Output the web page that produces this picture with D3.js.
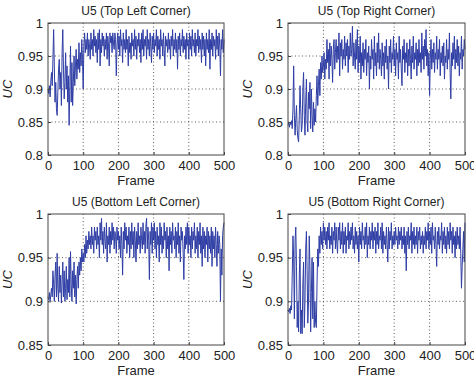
<!DOCTYPE html>
<html>
<head>
<meta charset="utf-8">
<script src="https://cdn.jsdelivr.net/npm/d3@7"></script>
<style>
  body { margin: 0; background: white; }
  text { font-family: "Liberation Sans", Arial, sans-serif; fill: #222; }
</style>
</head>
<body>
<div id="container"></div>
<script>
/* CONSTANTS AND GLOBALS */
const width = 474,
  height = 377;

// frame index of each sample (one reading every 2 frames)
const frames = d3.range(0, 501, 2);
const xTicks = [0, 100, 200, 300, 400, 500];

const titles = [
  "U5 (Top Left Corner)",
  "U5 (Top Right Corner)",
  "U5 (Bottom Left Corner)",
  "U5 (Bottom Right Corner)"
];

const yTicksTop = [0.8, 0.85, 0.9, 0.95, 1];
const yTicksBottom = [0.85, 0.9, 0.95, 1];

// UC values (each row = 20 frames)
const topLeft = [
  0.900, 0.893, 0.905, 0.888, 0.912, 0.925, 0.905, 0.945, 0.990, 0.935,
  0.880, 0.910, 0.870, 0.860, 0.895, 0.930, 0.945, 0.900, 0.925, 0.875,
  0.955, 0.990, 0.930, 0.885, 0.910, 0.955, 0.900, 0.935, 0.880, 0.920,
  0.845, 0.905, 0.965, 0.880, 0.940, 0.875, 0.910, 0.950, 0.905, 0.935,
  0.960, 0.915, 0.945, 0.930, 0.970, 0.925, 0.955, 0.935, 0.975, 0.945,
  0.900, 0.965, 0.985, 0.955, 0.975, 0.960, 0.985, 0.950, 0.975, 0.965,
  0.945, 0.985, 0.960, 0.975, 0.950, 0.990, 0.965, 0.980, 0.955, 0.975,
  0.940, 0.985, 0.960, 0.990, 0.935, 0.975, 0.955, 0.985, 0.965, 0.980,
  0.950, 0.975, 0.960, 0.985, 0.945, 0.980, 0.965, 0.935, 0.985, 0.970,
  0.980, 0.955, 0.985, 0.970, 0.960, 0.985, 0.975, 0.920, 0.965, 0.985,
  0.960, 0.980, 0.950, 0.990, 0.965, 0.975, 0.940, 0.985, 0.960, 0.975,
  0.955, 0.990, 0.960, 0.975, 0.935, 0.980, 0.955, 0.970, 0.945, 0.985,
  0.965, 0.975, 0.950, 0.990, 0.960, 0.980, 0.945, 0.975, 0.965, 0.985,
  0.955, 0.975, 0.940, 0.985, 0.960, 0.990, 0.950, 0.975, 0.965, 0.980,
  0.945, 0.990, 0.960, 0.975, 0.950, 0.985, 0.965, 0.940, 0.980, 0.960,
  0.985, 0.955, 0.975, 0.965, 0.990, 0.950, 0.980, 0.960, 0.975, 0.945,
  0.990, 0.965, 0.975, 0.950, 0.985, 0.960, 0.935, 0.980, 0.965, 0.975,
  0.955, 0.985, 0.960, 0.975, 0.945, 0.980, 0.965, 0.990, 0.950, 0.975,
  0.960, 0.985, 0.955, 0.975, 0.930, 0.980, 0.960, 0.985, 0.950, 0.975,
  0.965, 0.990, 0.955, 0.980, 0.960, 0.975, 0.945, 0.985, 0.965, 0.975,
  0.945, 0.985, 0.960, 0.980, 0.950, 0.990, 0.965, 0.975, 0.955, 0.985,
  0.950, 0.975, 0.965, 0.990, 0.955, 0.980, 0.960, 0.975, 0.940, 0.985,
  0.960, 0.980, 0.950, 0.975, 0.935, 0.985, 0.960, 0.975, 0.955, 0.990,
  0.930, 0.975, 0.960, 0.985, 0.950, 0.980, 0.965, 0.975, 0.945, 0.990,
  0.960, 0.980, 0.950, 0.985, 0.965, 0.920, 0.975, 0.960, 0.990, 0.955,
  0.975
];

const topRight = [
  0.845, 0.848, 0.842, 0.850, 0.846, 0.852, 0.840, 0.870, 0.935, 0.860,
  0.830, 0.855, 0.875, 0.838, 0.825, 0.820, 0.860, 0.905, 0.870, 0.835,
  0.845, 0.900, 0.925, 0.860, 0.830, 0.880, 0.915, 0.850, 0.835, 0.895,
  0.870, 0.910, 0.840, 0.900, 0.860, 0.835, 0.880, 0.845, 0.870, 0.850,
  0.890, 0.920, 0.875, 0.905, 0.930, 0.890, 0.940, 0.915, 0.950, 0.925,
  0.935, 0.955, 0.915, 0.945, 0.930, 0.975, 0.940, 0.960, 0.915, 0.970,
  0.935, 0.965, 0.945, 0.910, 0.960, 0.975, 0.930, 0.955, 0.975, 0.940,
  0.965, 0.945, 0.985, 0.920, 0.970, 0.950, 0.975, 0.930, 0.960, 0.945,
  0.980, 0.935, 0.970, 0.950, 0.975, 0.925, 0.965, 0.945, 0.985, 0.950,
  0.960, 0.995, 0.935, 0.970, 0.950, 0.930, 0.975, 0.945, 0.990, 0.925,
  0.965, 0.940, 0.980, 0.915, 0.955, 0.935, 0.970, 0.925, 0.960, 0.945,
  0.975, 0.920, 0.955, 0.940, 0.965, 0.900, 0.950, 0.930, 0.975, 0.945,
  0.960, 0.915, 0.980, 0.935, 0.955, 0.920, 0.970, 0.940, 0.985, 0.930,
  0.960, 0.945, 0.920, 0.970, 0.935, 0.955, 0.915, 0.965, 0.940, 0.975,
  0.930, 0.950, 0.900, 0.965, 0.940, 0.975, 0.925, 0.955, 0.945, 0.980,
  0.935, 0.960, 0.920, 0.970, 0.945, 0.955, 0.915, 0.980, 0.940, 0.960,
  0.930, 0.905, 0.965, 0.945, 0.975, 0.925, 0.955, 0.940, 0.970, 0.920,
  0.960, 0.935, 0.975, 0.945, 0.915, 0.965, 0.940, 0.980, 0.930, 0.955,
  0.945, 0.970, 0.920, 0.960, 0.935, 0.975, 0.940, 0.955, 0.925, 0.985,
  0.945, 0.965, 0.930, 0.975, 0.950, 0.990, 0.935, 0.960, 0.920, 0.955,
  0.890, 0.945, 0.975, 0.930, 0.960, 0.940, 0.970, 0.925, 0.955, 0.945,
  0.980, 0.930, 0.960, 0.945, 0.975, 0.920, 0.955, 0.940, 0.965, 0.935,
  0.970, 0.915, 0.950, 0.940, 0.975, 0.930, 0.960, 0.945, 0.985, 0.925,
  0.885, 0.955, 0.935, 0.970, 0.945, 0.980, 0.930, 0.960, 0.940, 0.975,
  0.935, 0.965, 0.920, 0.955, 0.945, 0.980, 0.930, 0.960, 0.950, 0.975,
  0.960
];

const bottomLeft = [
  0.905, 0.902, 0.910, 0.900, 0.908, 0.915, 0.905, 0.935, 0.920, 0.900,
  0.930, 0.945, 0.905, 0.955, 0.915, 0.900, 0.940, 0.910, 0.930, 0.898,
  0.920, 0.945, 0.905, 0.935, 0.900, 0.915, 0.940, 0.902, 0.925, 0.910,
  0.950, 0.905, 0.957, 0.920, 0.900, 0.935, 0.915, 0.945, 0.905, 0.930,
  0.897, 0.925, 0.940, 0.915, 0.945, 0.930, 0.950, 0.935, 0.960, 0.945,
  0.955, 0.945, 0.965, 0.950, 0.975, 0.955, 0.970, 0.960, 0.980, 0.965,
  0.975, 0.960, 0.985, 0.965, 0.975, 0.955, 0.985, 0.970, 0.980, 0.960,
  0.985, 0.965, 0.975, 0.950, 0.990, 0.970, 0.995, 0.965, 0.980, 0.955,
  0.985, 0.970, 0.960, 0.990, 0.945, 0.975, 0.965, 0.985, 0.955, 0.980,
  0.965, 0.990, 0.970, 0.985, 0.960, 0.980, 0.975, 0.955, 0.985, 0.970,
  0.980, 0.960, 0.975, 0.950, 0.985, 0.965, 0.930, 0.980, 0.960, 0.990,
  0.970, 0.985, 0.955, 0.975, 0.965, 0.985, 0.950, 0.980, 0.960, 0.990,
  0.965, 0.980, 0.950, 0.985, 0.970, 0.945, 0.980, 0.960, 0.990, 0.965,
  0.975, 0.955, 0.985, 0.970, 0.960, 0.990, 0.965, 0.980, 0.955, 0.985,
  0.995, 0.960, 0.985, 0.970, 0.925, 0.980, 0.965, 0.990, 0.955, 0.985,
  0.970, 0.990, 0.960, 0.980, 0.950, 0.985, 0.965, 0.975, 0.945, 0.990,
  0.965, 0.985, 0.955, 0.975, 0.960, 0.990, 0.970, 0.980, 0.950, 0.985,
  0.960, 0.975, 0.935, 0.985, 0.965, 0.980, 0.955, 0.990, 0.970, 0.975,
  0.960, 0.985, 0.950, 0.980, 0.965, 0.990, 0.955, 0.975, 0.945, 0.985,
  0.970, 0.980, 0.955, 0.925, 0.975, 0.960, 0.985, 0.965, 0.990, 0.955,
  0.985, 0.965, 0.975, 0.950, 0.985, 0.960, 0.980, 0.970, 0.990, 0.955,
  0.975, 0.960, 0.985, 0.950, 0.980, 0.965, 0.990, 0.955, 0.975, 0.940,
  0.985, 0.960, 0.980, 0.950, 0.975, 0.965, 0.985, 0.945, 0.980, 0.960,
  0.975, 0.955, 0.985, 0.940, 0.980, 0.960, 0.975, 0.950, 0.985, 0.965,
  0.940, 0.980, 0.955, 0.975, 0.965, 0.900, 0.960, 0.930, 0.975, 0.985,
  0.990
];

const bottomRight = [
  0.890, 0.888, 0.892, 0.886, 0.895, 0.890, 0.930, 0.975, 0.950, 0.880,
  0.970, 0.985, 0.940, 0.870, 0.900, 0.865, 0.930, 0.960, 0.863, 0.890,
  0.863, 0.920, 0.945, 0.870, 0.900, 0.960, 0.980, 0.935, 0.875, 0.900,
  0.975, 0.940, 0.865, 0.910, 0.950, 0.880, 0.945, 0.870, 0.900, 0.875,
  0.870, 0.920, 0.960, 0.940, 0.975, 0.955, 0.985, 0.965, 0.980, 0.960,
  0.990, 0.970, 0.985, 0.965, 0.980, 0.960, 0.985, 0.970, 0.990, 0.960,
  0.975, 0.965, 0.985, 0.955, 0.980, 0.970, 0.990, 0.960, 0.985, 0.965,
  0.955, 0.985, 0.970, 0.990, 0.960, 0.980, 0.965, 0.990, 0.955, 0.980,
  0.965, 0.985, 0.955, 0.975, 0.970, 0.990, 0.960, 0.980, 0.965, 0.985,
  0.970, 0.990, 0.960, 0.975, 0.955, 0.985, 0.965, 0.980, 0.960, 0.975,
  0.945, 0.985, 0.965, 0.980, 0.960, 0.990, 0.970, 0.975, 0.960, 0.985,
  0.965, 0.990, 0.950, 0.975, 0.965, 0.985, 0.960, 0.980, 0.970, 0.990,
  0.960, 0.980, 0.970, 0.985, 0.955, 0.980, 0.965, 0.990, 0.960, 0.975,
  0.970, 0.985, 0.960, 0.990, 0.955, 0.980, 0.965, 0.975, 0.960, 0.985,
  0.965, 0.945, 0.985, 0.960, 0.980, 0.970, 0.990, 0.960, 0.975, 0.965,
  0.980, 0.965, 0.985, 0.970, 0.975, 0.960, 0.985, 0.965, 0.980, 0.970,
  0.985, 0.960, 0.975, 0.965, 0.985, 0.955, 0.975, 0.935, 0.980, 0.965,
  0.985, 0.960, 0.975, 0.970, 0.990, 0.955, 0.980, 0.965, 0.985, 0.960,
  0.975, 0.965, 0.985, 0.955, 0.980, 0.970, 0.985, 0.960, 0.975, 0.965,
  0.980, 0.955, 0.975, 0.965, 0.985, 0.960, 0.980, 0.970, 0.990, 0.960,
  0.980, 0.965, 0.985, 0.955, 0.990, 0.970, 0.975, 0.960, 0.985, 0.965,
  0.940, 0.980, 0.965, 0.985, 0.960, 0.975, 0.970, 0.990, 0.955, 0.980,
  0.965, 0.985, 0.960, 0.975, 0.955, 0.985, 0.965, 0.980, 0.960, 0.990,
  0.970, 0.980, 0.955, 0.985, 0.965, 0.975, 0.950, 0.980, 0.960, 0.985,
  0.965, 0.975, 0.960, 0.985, 0.955, 0.915, 0.940, 0.960, 0.980, 0.945,
  0.990
];

// panel layout (pixel boxes)
const panels = [
  { title: titles[0], values: topLeft, yTicks: yTicksTop, x0: 48, x1: 224, y0: 23, y1: 155 },
  { title: titles[1], values: topRight, yTicks: yTicksTop, x0: 288, x1: 465, y0: 23, y1: 155 },
  { title: titles[2], values: bottomLeft, yTicks: yTicksBottom, x0: 48, x1: 224, y0: 214, y1: 345 },
  { title: titles[3], values: bottomRight, yTicks: yTicksBottom, x0: 288, x1: 465, y0: 214, y1: 345 }
];

// CREATE SVG ELEMENT
const svg = d3.select("#container")
  .append("svg")
  .attr("width", width)
  .attr("height", height)
  .style("background-color", "white");

panels.forEach(p => {
  const xScale = d3.scaleLinear()
    .domain([0, 500])
    .range([p.x0, p.x1]);

  const yScale = d3.scaleLinear()
    .domain(d3.extent(p.yTicks))
    .range([p.y1, p.y0]);

  const g = svg.append("g");

  // GRID
  g.selectAll(".vgrid")
    .data(xTicks.slice(1, -1))
    .join("line")
    .attr("x1", d => xScale(d))
    .attr("x2", d => xScale(d))
    .attr("y1", p.y0)
    .attr("y2", p.y1)
    .attr("stroke", "#333")
    .attr("stroke-width", 0.8)
    .attr("stroke-dasharray", "1,2.5");

  g.selectAll(".hgrid")
    .data(p.yTicks.slice(1, -1))
    .join("line")
    .attr("x1", p.x0)
    .attr("x2", p.x1)
    .attr("y1", d => yScale(d))
    .attr("y2", d => yScale(d))
    .attr("stroke", "#333")
    .attr("stroke-width", 0.8)
    .attr("stroke-dasharray", "1,2.5");

  // DRAW LINE
  const drawLine = d3.line()
    .x((d, i) => xScale(frames[i]))
    .y(d => yScale(d));

  g.append("path")
    .datum(p.values)
    .attr("fill", "none")
    .attr("stroke", "#2f3ea5")
    .attr("stroke-width", 1)
    .attr("d", drawLine);

  // AXES (matlab style: ticks inside, box around)
  const xAxis = d3.axisBottom(xScale)
    .tickValues(xTicks)
    .tickSizeInner(-3)
    .tickSizeOuter(0)
    .tickPadding(6);

  g.append("g")
    .attr("transform", `translate(0, ${p.y1})`)
    .call(xAxis)
    .call(a => a.select(".domain").remove())
    .call(a => a.selectAll("line").attr("stroke", "#444"))
    .call(a => a.selectAll("text")
      .attr("font-size", 13)
      .attr("font-family", "Liberation Sans, Arial, sans-serif")
      .attr("fill", "#222"));

  const yAxis = d3.axisLeft(yScale)
    .tickValues(p.yTicks)
    .tickFormat(d3.format("~g"))
    .tickSizeInner(-3)
    .tickSizeOuter(0)
    .tickPadding(5);

  g.append("g")
    .attr("transform", `translate(${p.x0}, 0)`)
    .call(yAxis)
    .call(a => a.select(".domain").remove())
    .call(a => a.selectAll("line").attr("stroke", "#444"))
    .call(a => a.selectAll("text")
      .attr("font-size", 13)
      .attr("font-family", "Liberation Sans, Arial, sans-serif")
      .attr("fill", "#222"));

  g.append("rect")
    .attr("x", p.x0)
    .attr("y", p.y0)
    .attr("width", p.x1 - p.x0)
    .attr("height", p.y1 - p.y0)
    .attr("fill", "none")
    .attr("stroke", "#444")
    .attr("stroke-width", 1);

  // LABELS
  g.append("text")
    .attr("x", (p.x0 + p.x1) / 2)
    .attr("y", p.y0 - 8)
    .attr("text-anchor", "middle")
    .attr("font-size", 12)
    .text(p.title);

  g.append("text")
    .attr("x", (p.x0 + p.x1) / 2)
    .attr("y", p.y1 + 30)
    .attr("text-anchor", "middle")
    .attr("font-size", 13)
    .text("Frame");

  g.append("text")
    .attr("transform", `translate(${p.x0 - 36}, ${(p.y0 + p.y1) / 2}) rotate(-90)`)
    .attr("text-anchor", "middle")
    .attr("font-size", 13)
    .attr("font-style", "italic")
    .text("UC");
});
</script>
</body>
</html>
